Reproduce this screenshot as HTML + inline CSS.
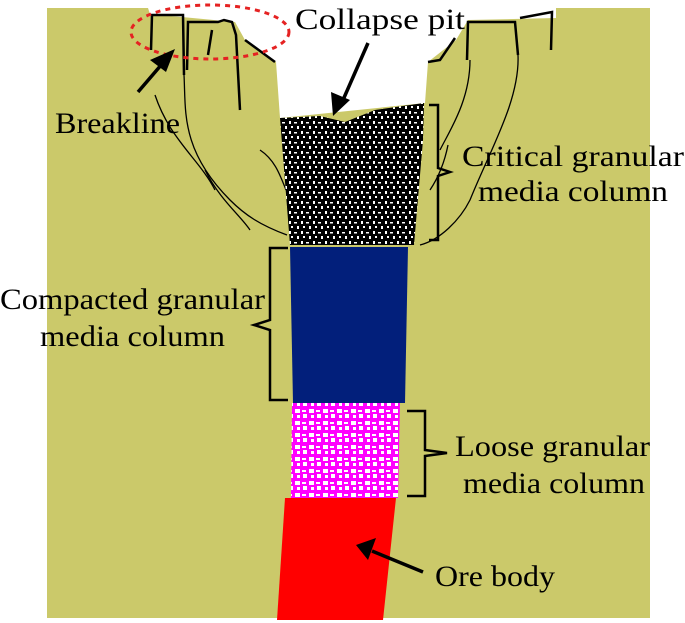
<!DOCTYPE html>
<html><head><meta charset="utf-8"><style>
html,body{margin:0;padding:0;background:#fff}
svg{display:block}
text{font-family:"Liberation Serif",serif;font-size:30px;fill:#000}
</style></head><body>
<svg width="685" height="623" viewBox="0 0 685 623" xmlns="http://www.w3.org/2000/svg">
<defs>
<pattern id="blk" width="12" height="10" patternUnits="userSpaceOnUse">
<rect width="12" height="10" fill="#000"/>
<rect x="1" y="1" width="2" height="3" fill="#fff"/>
<rect x="6" y="2" width="3" height="1.5" fill="#fff"/>
<rect x="9" y="6" width="2" height="3" fill="#fff"/>
<rect x="3" y="6" width="2" height="2" fill="#fff"/>
</pattern>
<pattern id="mag" width="14" height="12" patternUnits="userSpaceOnUse">
<rect width="14" height="12" fill="#ff00ff"/>
<rect x="1" y="1" width="5" height="4" fill="#fff"/>
<rect x="8" y="2" width="4" height="2" fill="#fff"/>
<rect x="3" y="7" width="3" height="3" fill="#fff"/>
<rect x="9" y="6" width="4" height="4" fill="#fff"/>
</pattern>
</defs>
<rect x="47" y="8" width="603" height="610" fill="#cbc96a"/>
<polygon points="148,8 556,8 556,18 468,20 456,40 428,62 425,103 280,118 276,62 245,40 235,22 150,14" fill="#fff"/>
<g fill="none" stroke="#000" stroke-width="2.5">
<polyline points="151,50 152,15 183,15 184,75"/>
<polyline points="187,70 188,22 218,22 224,20 232,22 236,35 240,110"/>
<polyline points="208,55 212,30"/>
<polyline points="245,40 275,62"/>
<polyline points="467,60 468,22 515,22 518,55"/>
<polyline points="520,18 552,12 551,50"/>
<polyline points="455,38 440,60 428,62"/>
</g>
<g fill="none" stroke="#000" stroke-width="1.3">
<path d="M184,75 C186,110 180,150 230,200 C245,215 260,225 287,235"/>
<path d="M155,95 C170,140 200,160 215,190"/>
<path d="M205,170 C220,200 240,215 250,230"/>
<path d="M260,150 C275,160 280,175 286,190"/>
<path d="M518,55 C520,100 490,150 470,200 C460,220 440,240 420,245"/>
<path d="M470,60 C470,100 450,130 440,150"/>
<path d="M430,190 C440,175 445,160 448,145"/>
</g>
<polygon points="280,118 320,116 345,122 375,110 424,103 423,140 414,245 290,245" fill="url(#blk)"/>
<polygon points="290,247 408,247 405,403 293,403" fill="#021f7b"/>
<polygon points="292,403 400,403 398,498 291,498" fill="url(#mag)"/>
<polygon points="285,498 396,498 383,620 277,620" fill="#ff0000"/>
<ellipse cx="210" cy="32" rx="79" ry="27" fill="none" stroke="#e52222" stroke-width="3" stroke-dasharray="5,5"/>
<g fill="none" stroke="#000" stroke-width="2.5">
<path d="M429,105 H438 V168 L450,172 L438,176 V240 H429"/>
<path d="M288,248 H270 V320 L254,325 L270,330 V400 H288"/>
<path d="M407,411 H425 V450 L447,453 L425,456 V496 H407"/>
</g>
<g stroke="#000" stroke-width="3.5">
<line x1="138" y1="92" x2="162" y2="64"/>
<line x1="368" y1="43" x2="343" y2="100"/>
<line x1="423" y1="572" x2="372" y2="551"/>
</g>
<g fill="#000">
<polygon points="175,49 150,60 166,72"/>
<polygon points="333,116 331,92 350,100"/>
<polygon points="356,545 376,538 368,560"/>
</g>
<text x="295" y="29" textLength="170" lengthAdjust="spacingAndGlyphs">Collapse pit</text>
<text x="55" y="133" textLength="125" lengthAdjust="spacingAndGlyphs">Breakline</text>
<text x="462" y="166" textLength="222" lengthAdjust="spacingAndGlyphs">Critical  granular</text>
<text x="478" y="201" textLength="190" lengthAdjust="spacingAndGlyphs">media  column</text>
<text x="0" y="309" textLength="265" lengthAdjust="spacingAndGlyphs">Compacted granular</text>
<text x="40" y="346" textLength="185" lengthAdjust="spacingAndGlyphs">media column</text>
<text x="455" y="456" textLength="195" lengthAdjust="spacingAndGlyphs">Loose granular</text>
<text x="463" y="493" textLength="182" lengthAdjust="spacingAndGlyphs">media column</text>
<text x="435" y="586" textLength="120" lengthAdjust="spacingAndGlyphs">Ore body</text>
</svg>
</body></html>
